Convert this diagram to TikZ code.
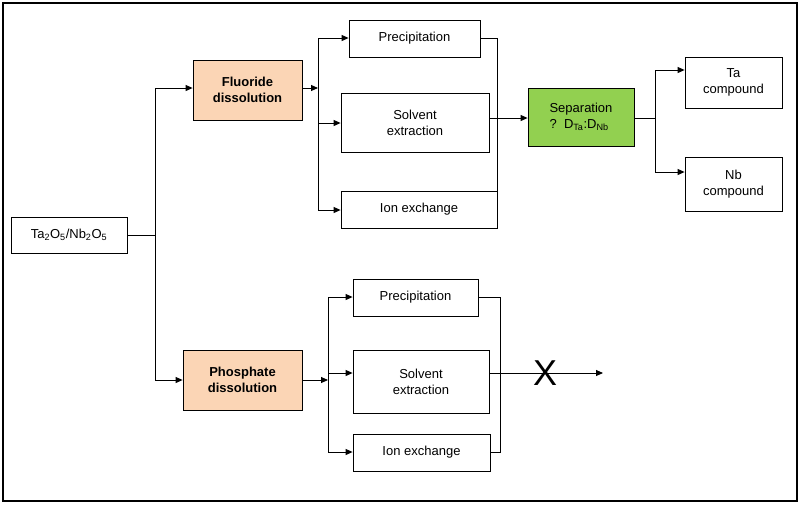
\documentclass[tikz,border=0pt]{standalone}
\usepackage{fontspec}
\setmainfont{Liberation Sans}
\usetikzlibrary{arrows.meta}
\definecolor{peach}{HTML}{FBD5B5}
\definecolor{sepgreen}{HTML}{92D050}
\begin{document}
\begin{tikzpicture}[x=1pt,y=-1pt,
  box/.style={draw,line width=0.8pt,align=center,inner sep=0pt,font=\fontsize{13}{16}\selectfont},
  ln/.style={line width=0.9pt},
  arr/.style={ln,-{Triangle[length=7pt,width=6pt]}}]
\useasboundingbox (0,0) rectangle (800,504);
\draw[line width=2.5pt] (3,3) rectangle (797,501);
\newcommand\bx[6]{\node[box,#6,minimum width={#4-#2},minimum height={#5-#3}] (#1) at ({(#2+#4)/2},{(#3+#5)/2}) {};}
\node[box,minimum width=116,minimum height=36] (ta) at (69,235) {Ta\textsubscript{2}O\textsubscript{5}/Nb\textsubscript{2}O\textsubscript{5}};
\node[box,fill=peach,minimum width=109,minimum height=60] (fl) at (247.5,90) {\textbf{Fluoride}\\\textbf{dissolution}};
\node[box,fill=peach,minimum width=119,minimum height=60] (ph) at (242.5,380) {\textbf{Phosphate}\\\textbf{dissolution}};
\node[box,minimum width=131,minimum height=37] (p1) at (414.5,38.5) {Precipitation};
\node[box,minimum width=148,minimum height=59] (s1) at (415,122.5) {Solvent\\extraction};
\node[box,minimum width=156,minimum height=37] (i1) at (419,209.5) {Ion exchange};
\node[box,fill=sepgreen,minimum width=106,minimum height=58,align=left] (sep) at (581,117) {Separation\\?\ \ D\textsubscript{Ta}:D\textsubscript{Nb}};
\node[box,minimum width=97,minimum height=51] (tc) at (733.5,82.5) {Ta\\compound};
\node[box,minimum width=97,minimum height=54] (nc) at (733.5,184) {Nb\\compound};
\node[box,minimum width=125,minimum height=37] (p2) at (415.5,297.5) {Precipitation};
\node[box,minimum width=136,minimum height=63] (s2) at (421,381.5) {Solvent\\extraction};
\node[box,minimum width=137,minimum height=37] (i2) at (421.5,452.5) {Ion exchange};
\coordinate (e) at (603,373);
% left split
\draw[ln] (ta.east) -- (155,235) coordinate (a0);
\draw[ln] (155,88) -- (155,380);
\draw[arr] (155,88) -- (fl.west|-0,88);
\draw[arr] (155,380) -- (ph.west|-0,380);
% fluoride branch
\draw[arr] (fl.east|-0,88) -- (318,88);
\draw[ln] (318,38) -- (318,210);
\draw[arr] (318,38) -- (p1.west|-0,38);
\draw[arr] (318,123) -- (s1.west|-0,123);
\draw[arr] (318,210) -- (i1.west|-0,210);
\draw[ln] (p1.east|-0,38) -- (497,38) -- (497,210) -- (i1.east|-0,210);
\draw[arr] (s1.east|-0,118) -- (sep.west|-0,118);
\draw[ln] (sep.east|-0,118) -- (655,118);
\draw[ln] (655,70) -- (655,172);
\draw[arr] (655,70) -- (tc.west|-0,70);
\draw[arr] (655,172) -- (nc.west|-0,172);
% phosphate branch
\draw[arr] (ph.east|-0,380) -- (328,380);
\draw[ln] (328,297) -- (328,452);
\draw[arr] (328,297) -- (p2.west|-0,297);
\draw[arr] (328,373) -- (s2.west|-0,373);
\draw[arr] (328,452) -- (i2.west|-0,452);
\draw[ln] (p2.east|-0,297) -- (500,297) -- (500,452) -- (i2.east|-0,452);
\draw[arr] (s2.east|-0,373) -- (e);
\node[font=\fontsize{36}{36}\selectfont,inner sep=0pt] (x) at (545,373) {X};
\end{tikzpicture}
\end{document}
